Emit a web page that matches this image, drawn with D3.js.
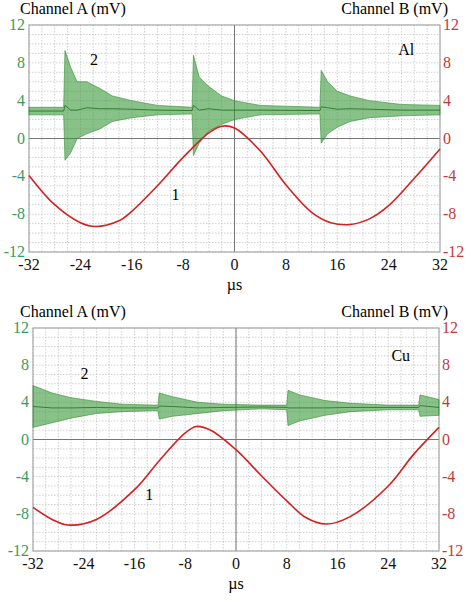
<!DOCTYPE html>
<html>
<head>
<meta charset="UTF-8">
<script src="https://cdn.jsdelivr.net/npm/d3@7"></script>
<style>body{margin:0;background:#fff} text{font-family:"Liberation Serif","Times New Roman",serif}</style>
</head>
<body>
<script>
// shared ticks
var xTicks = [-32, -24, -16, -8, 0, 8, 16, 24, 32]
var yTicks = [12, 8, 4, 0, -4, -8, -12]

// panel 1 (Al): red sine (channel B), green envelope (channel A)
var alRedT = [-32, -28, -24, -21.6, -18, -16, -12, -8, -4, -2, 0, 4, 8, 12, 15, 18, 21, 24, 28, 32]
var alRedV = [-3.9, -7.0, -8.9, -9.3, -8.7, -7.7, -5.0, -2.0, 0.6, 1.3, 1.1, -1.3, -4.9, -7.8, -8.9, -9.1, -8.5, -7.1, -4.2, -1.1]
var alGrT  = [-32, -26.6, -26.4, -25.5, -24.5, -23, -21, -19, -16, -12, -6.6, -6.4, -5.5, -4, -2, 0, 4, 13.3, 13.5, 14.5, 16, 18, 21, 26, 32]
var alGrHi = [3.3, 3.3, 9.3, 7.5, 6.0, 6.0, 5.3, 4.5, 4.0, 3.5, 3.3, 8.8, 6.5, 5.5, 4.5, 4.0, 3.5, 3.3, 7.2, 6.0, 5.0, 4.5, 4.0, 3.6, 3.5]
var alGrLo = [2.5, 2.5, -2.3, -1.5, 0, 0.5, 1.0, 1.8, 2.2, 2.5, 2.6, -1.8, -0.5, 0.8, 1.5, 2.0, 2.5, 2.6, -0.5, 0.5, 1.2, 1.8, 2.2, 2.4, 2.5]

// panel 2 (Cu)
var cuRedT = [-32, -29, -26.6, -22, -16, -12, -8, -6.3, -4, 0, 4, 8, 11, 14.2, 18, 24, 28, 32]
var cuRedV = [-7.3, -8.6, -9.2, -8.6, -5.4, -2.2, 0.7, 1.4, 1.0, -1.1, -3.9, -6.6, -8.4, -9.1, -8.3, -5.0, -1.6, 1.3]
var cuGrT  = [-32, -29, -26, -22, -18, -13, -12.3, -12.1, -10, -6, -2, 4, 8, 8.2, 10, 14, 18, 24, 28.8, 29, 32]
var cuGrHi = [5.8, 5.0, 4.5, 4.1, 3.8, 3.7, 3.7, 5.0, 4.6, 4.0, 3.8, 3.7, 3.7, 5.3, 4.8, 4.2, 3.9, 3.7, 3.7, 4.8, 4.3]
var cuGrLo = [1.3, 1.8, 2.3, 2.8, 3.0, 3.1, 3.1, 2.2, 2.5, 2.8, 3.1, 3.3, 3.2, 1.5, 2.0, 2.6, 3.0, 3.2, 3.2, 2.5, 2.6]

var svg = d3.select("body").append("svg").attr("width", 474).attr("height", 602)

function panel(box, redT, redV, grT, hi, lo, metal, lab2, lab1, labM) {
    var x = d3.scaleLinear().domain([-32, 32]).range([box.l, box.r])
    var y = d3.scaleLinear().domain([-12, 12]).range([box.b, box.t])
    var g = svg.append("g")

    // dotted grid
    g.selectAll(".gx").data(d3.range(-32, 33, 2)).enter().append("line")
        .attr("x1", d => x(d)).attr("x2", d => x(d)).attr("y1", box.t).attr("y2", box.b)
        .style("stroke", "#bbb").style("stroke-width", 0.7).style("stroke-dasharray", "1.5,1.5")
    g.selectAll(".gy").data(d3.range(-12, 13, 1)).enter().append("line")
        .attr("y1", d => y(d)).attr("y2", d => y(d)).attr("x1", box.l).attr("x2", box.r)
        .style("stroke", "#bbb").style("stroke-width", 0.7).style("stroke-dasharray", "1.5,1.5")
    g.append("line").attr("x1", x(0)).attr("x2", x(0)).attr("y1", box.t).attr("y2", box.b)
        .style("stroke", "#777").style("stroke-width", 1)
    g.append("line").attr("y1", y(0)).attr("y2", y(0)).attr("x1", box.l).attr("x2", box.r)
        .style("stroke", "#777").style("stroke-width", 1)
    g.append("rect").attr("x", box.l).attr("y", box.t).attr("width", box.r - box.l).attr("height", box.b - box.t)
        .style("fill", "none").style("stroke", "#999")

    // channel A (green) envelope
    var gr = grT.map((t, i) => ({t: t, hi: hi[i], lo: lo[i]}))
    g.append("path").datum(gr)
        .attr("d", d3.area().x(d => x(d.t)).y0(d => y(d.lo)).y1(d => y(d.hi)))
        .style("fill", "#3a9a3a").style("fill-opacity", 0.6)
        .style("stroke", "#2e8b2e").style("stroke-width", 0.6)
    g.append("path").datum(gr)
        .attr("d", d3.line().x(d => x(d.t)).y(d => y((d.hi + d.lo) / 2)))
        .style("fill", "none").style("stroke", "#1f6f1f").style("stroke-width", 0.8)

    // channel B (red)
    var rd = redT.map((t, i) => [t, redV[i]])
    g.append("path").datum(rd)
        .attr("d", d3.line().x(d => x(d[0])).y(d => y(d[1])).curve(d3.curveCatmullRom))
        .style("fill", "none").style("stroke", "#d42020").style("stroke-width", 1.6)

    // tick labels
    g.selectAll(".yl").data(yTicks).enter().append("text")
        .attr("x", box.l - 4).attr("y", d => y(d) + 5).attr("text-anchor", "end")
        .style("fill", "#3c9a5c").style("font-size", "16px").text(d => d)
    g.selectAll(".yr").data(yTicks).enter().append("text")
        .attr("x", box.r + 3).attr("y", d => y(d) + 5)
        .style("fill", "#c43a3a").style("font-size", "16px").text(d => d)
    g.selectAll(".xl").data(xTicks).enter().append("text")
        .attr("x", d => x(d)).attr("y", box.b + 18).attr("text-anchor", "middle")
        .style("fill", "#111").style("font-size", "16px").text(d => d)
    g.append("text").attr("x", x(0)).attr("y", box.b + 38).attr("text-anchor", "middle")
        .style("font-size", "16px").text("µs")
    g.append("text").attr("x", 20).attr("y", box.t - 11).style("font-size", "16px").text("Channel A (mV)")
    g.append("text").attr("x", 448).attr("y", box.t - 11).attr("text-anchor", "end")
        .style("font-size", "16px").text("Channel B (mV)")

    g.append("text").attr("x", x(lab2[0])).attr("y", y(lab2[1])).style("font-size", "16px").text("2")
    g.append("text").attr("x", x(lab1[0])).attr("y", y(lab1[1])).style("font-size", "16px").text("1")
    g.append("text").attr("x", x(labM[0])).attr("y", y(labM[1])).style("font-size", "16px").text(metal)
}

panel({l: 29, r: 440, t: 25, b: 252}, alRedT, alRedV, alGrT, alGrHi, alGrLo, "Al", [-22.5, 7.8], [-9.8, -6.5], [25.5, 8.8])
panel({l: 33, r: 439, t: 328, b: 551}, cuRedT, cuRedV, cuGrT, cuGrHi, cuGrLo, "Cu", [-24.5, 6.5], [-14.3, -6.5], [24.5, 8.5])
</script>
</body>
</html>
